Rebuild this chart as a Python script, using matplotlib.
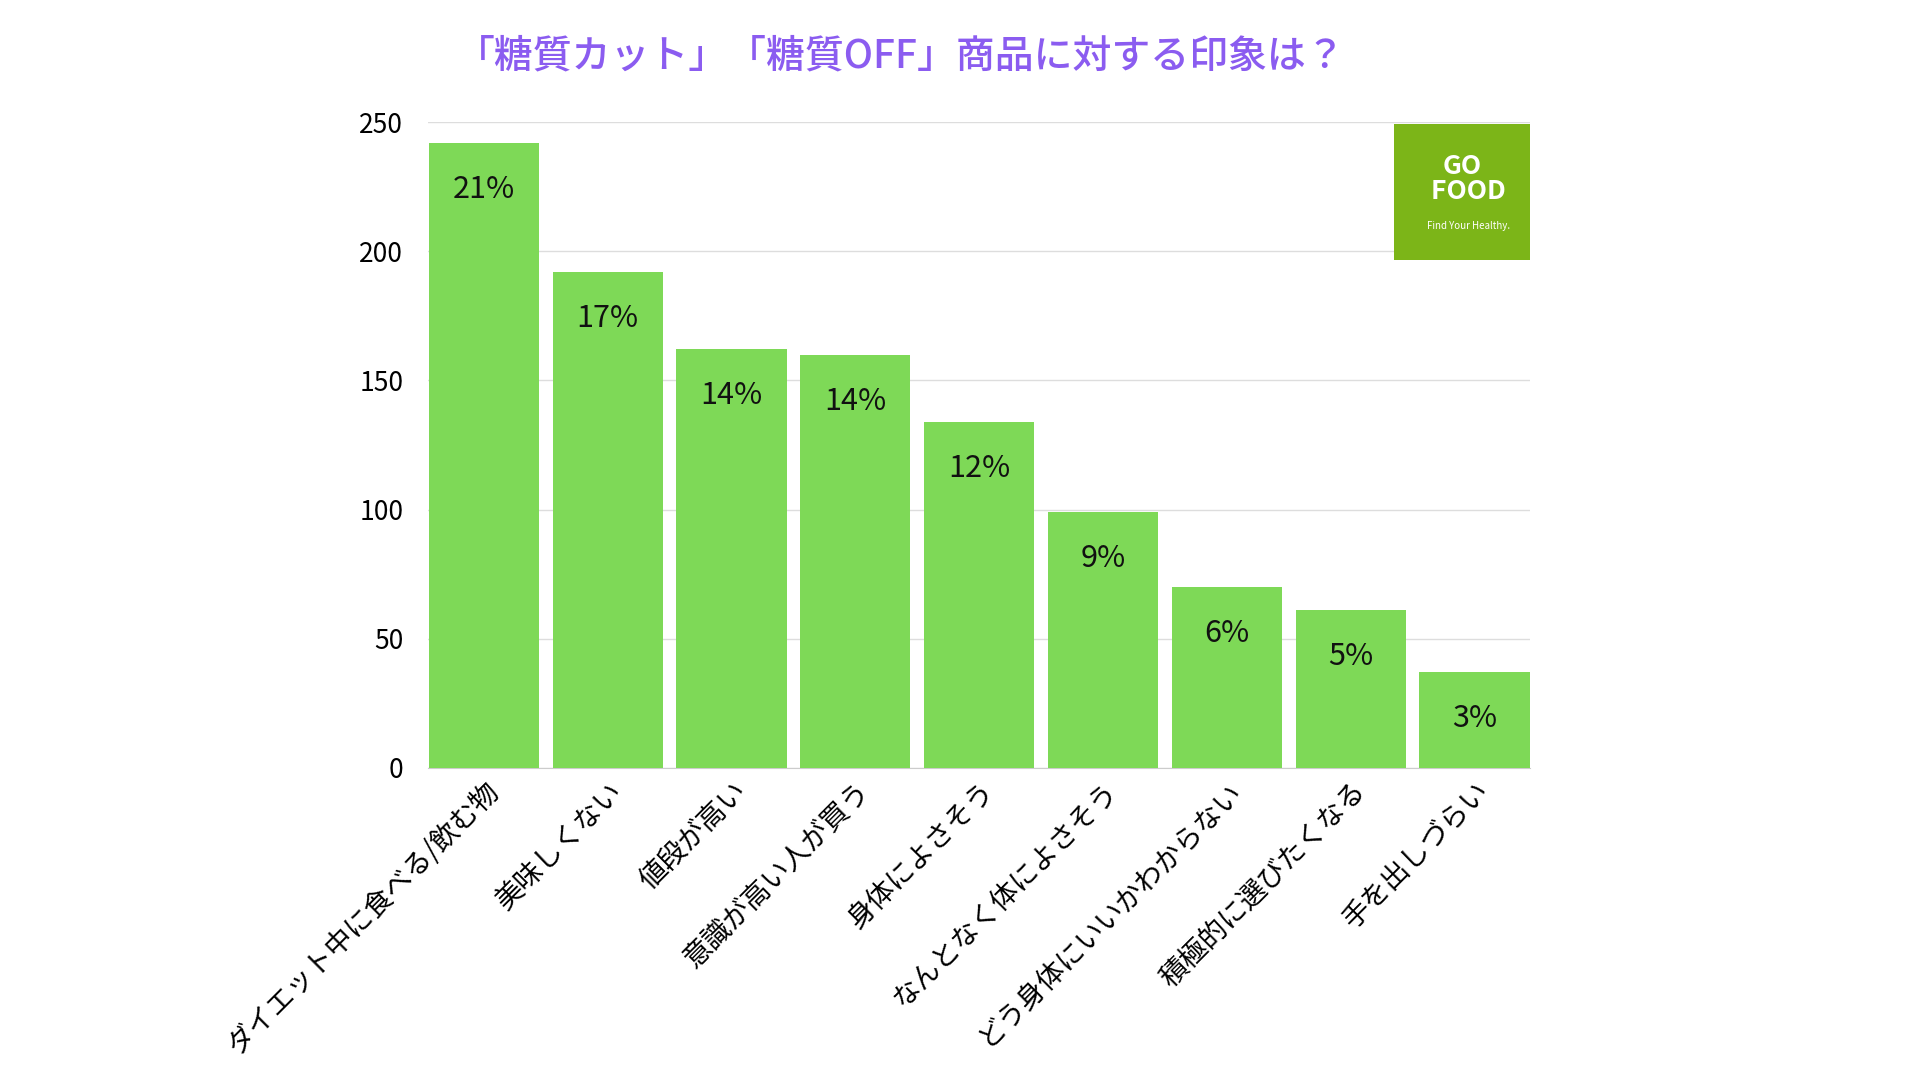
import matplotlib
matplotlib.use("Agg")
import matplotlib.pyplot as plt
from matplotlib.patches import Rectangle

plt.rcParams["font.family"] = "Noto Sans CJK JP"

categories = ["ダイエット中に食べる/飲む物", "美味しくない", "値段が高い", "意識が高い人が買う",
              "身体によさそう", "なんとなく体によさそう", "どう身体にいいかわからない",
              "積極的に選びたくなる", "手を出しづらい"]
counts = [242, 192, 162, 160, 134, 99, 70, 61, 37]
percents = ["21%", "17%", "14%", "14%", "12%", "9%", "6%", "5%", "3%"]
yticks = [0, 50, 100, 150, 200, 250]

fig = plt.figure(figsize=(19.2, 10.8), dpi=100)
ax = fig.add_axes([0.223, 0.289, 0.574, 0.598])

x = range(len(categories))
bars = ax.bar(x, counts, width=0.89, color="#7ed957", zorder=3)
for b, p in zip(bars, percents):
    ax.text(b.get_x() + b.get_width() / 2, b.get_height() - 12, p,
            ha="center", va="top", fontsize=22, color="#111111", zorder=4)

ax.set_xlim(-0.45, len(categories) - 0.55)
ax.set_ylim(0, 250)
ax.set_yticks(yticks)
ax.tick_params(axis="y", length=0, labelsize=19, pad=18)
ax.tick_params(axis="x", length=0, labelsize=20, pad=6)
ax.set_xticks(list(x))
ax.set_xticklabels(categories, rotation=45, ha="right", rotation_mode="anchor")
ax.grid(axis="y", color="#dddddd", linewidth=1, zorder=0)
for s in ["top", "right", "left"]:
    ax.spines[s].set_visible(False)
ax.spines["bottom"].set_color("#cccccc")

fig.text(0.469, 0.948, "「糖質カット」「糖質OFF」商品に対する印象は？",
         ha="center", va="center", fontsize=28, color="#8b5cf0", fontweight="medium")

# logo
lx, ly, lw, lh = 0.726, 0.759, 0.071, 0.126
fig.patches.append(Rectangle((lx, ly), lw, lh, transform=fig.transFigure,
                             facecolor="#7cb518", edgecolor="none", zorder=5))
fig.text(lx + lw / 2, ly + lh * 0.6, "GO\n  FOOD", ha="center", va="center",
         fontsize=19, color="white", fontweight="bold", linespacing=0.9, zorder=6)
fig.text(lx + lw * 0.55, ly + lh * 0.25, "Find Your Healthy.", ha="center", va="center",
         fontsize=7, color="white", zorder=6)

fig.savefig("out.png", dpi=100)
